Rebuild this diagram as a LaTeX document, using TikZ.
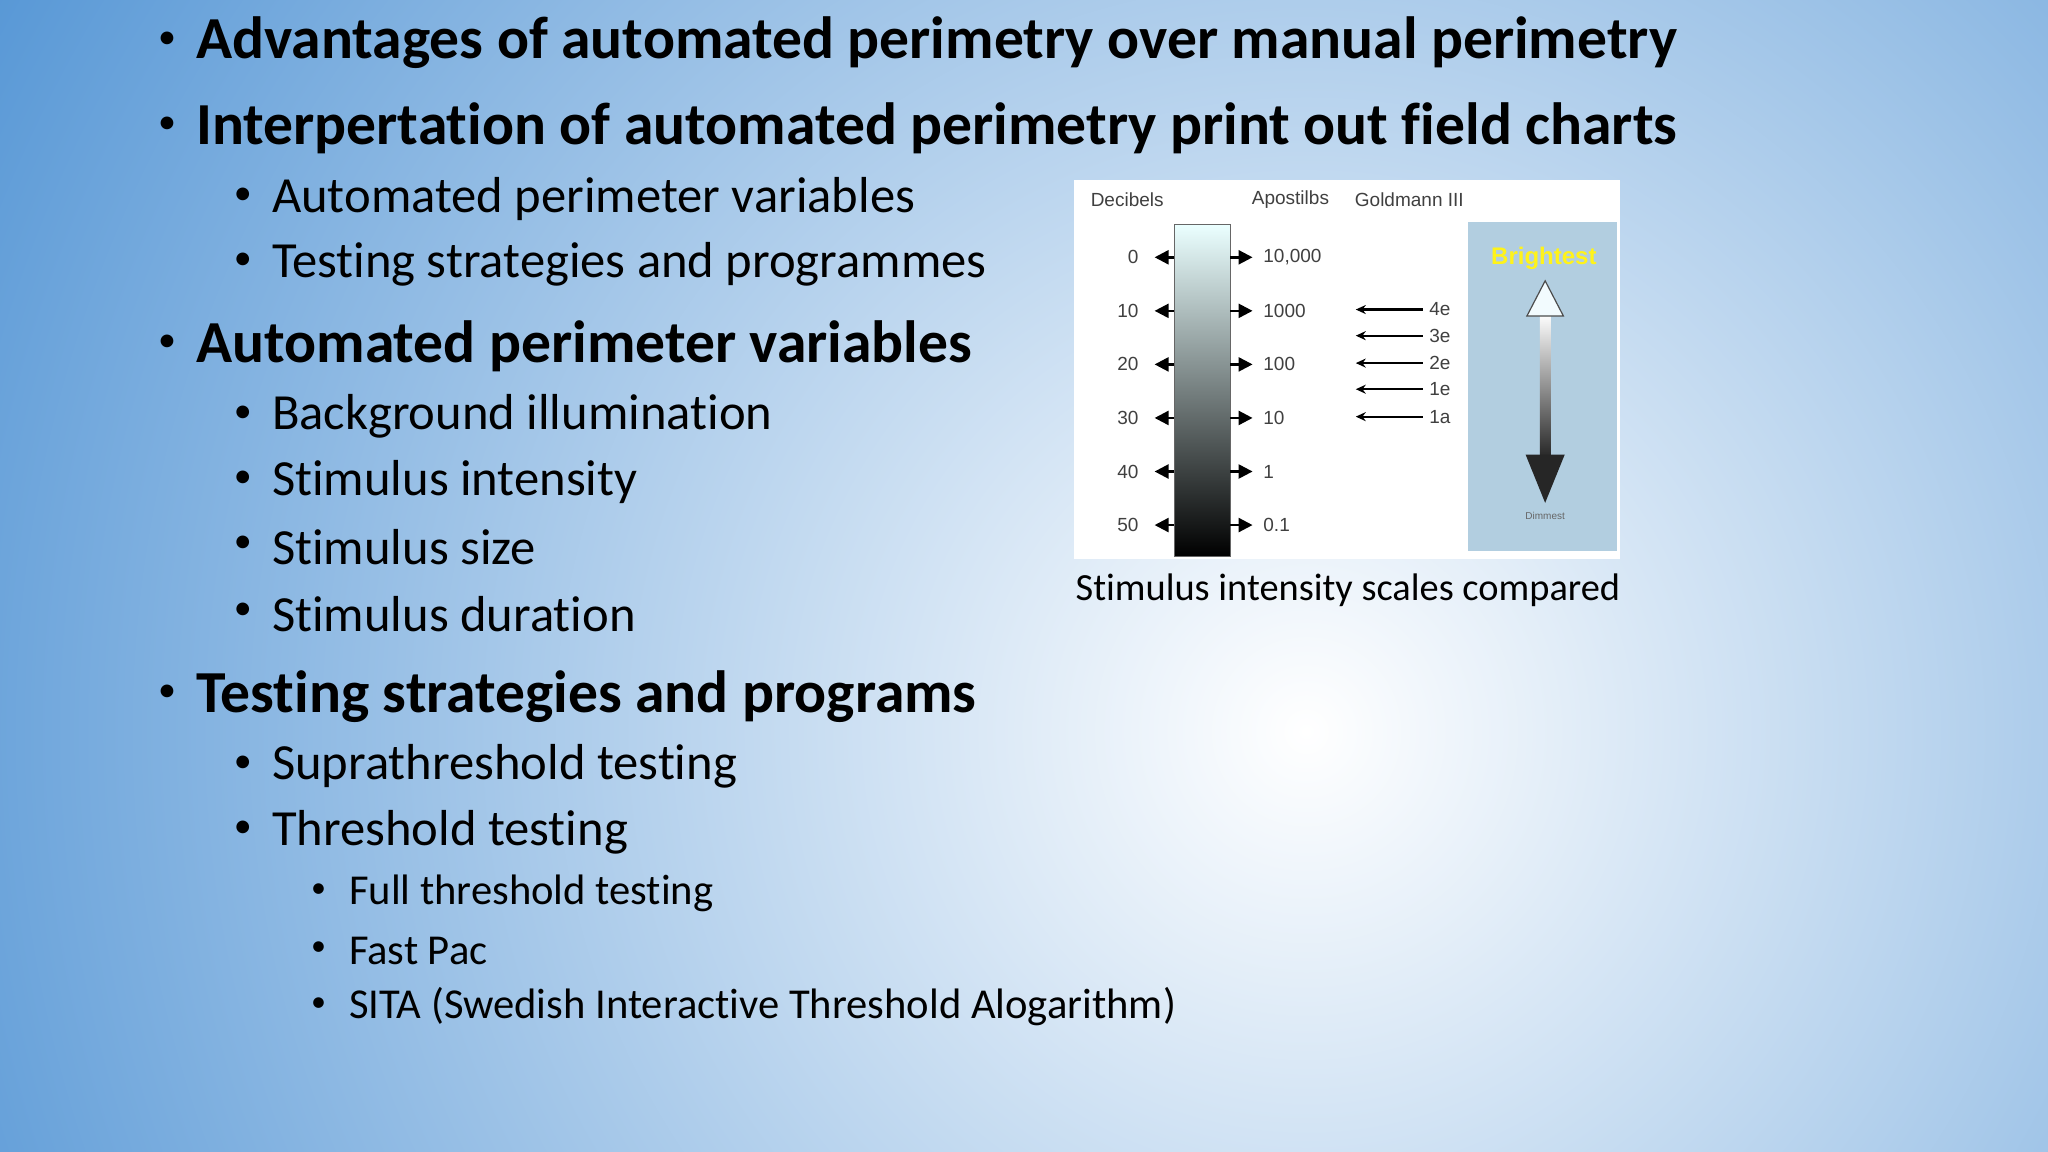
\documentclass[tikz,border=0pt]{standalone}
\usepackage{fontspec}
\setmainfont{Carlito}[Ligatures=NoCommon]
\newfontfamily\chartfont{Liberation Sans}
\usetikzlibrary{arrows.meta}
\definecolor{bgblue}{RGB}{88,152,214}
\definecolor{panelblue}{RGB}{178,206,224}
\tikzset{
  lone/.style={anchor=west,font=\fontsize{29.8}{32}\selectfont\bfseries,inner sep=0pt},
  ltwo/.style={anchor=west,font=\fontsize{25.3}{28}\selectfont,inner sep=0pt},
  lthree/.style={anchor=west,font=\fontsize{21.3}{24}\selectfont,inner sep=0pt},
  bul/.style={inner sep=0pt,font=\fontsize{18}{18}\selectfont},
  ctext/.style={font=\chartfont\fontsize{9.5}{10}\selectfont,text=black!75,inner sep=0pt},
  tick/.style={line width=1.2pt,-{Triangle[length=7pt,width=7pt]}},
  garrow/.style={line width=1.1pt,{Stealth[length=5pt,width=4.5pt]}-},
}
\begin{document}
\begin{tikzpicture}[x=0.653pt,y=-0.653pt]
\useasboundingbox (0,0) rectangle (1568,882);
\fill[bgblue] (0,0) rectangle (1568,882);
\begin{scope}
\clip (0,0) rectangle (1568,882);
\shade[inner color=white,outer color=bgblue] (1000,560) circle (1150);
\end{scope}
% bullets
\foreach \y/\t [count=\i] in {33/Advantages of automated perimetry over manual perimetry,
  98/Interpertation of automated perimetry print out field charts,
  265/Automated perimeter variables,533/Testing strategies and programs}{
  \node[bul] (b\i) at (128,\y-2) {•};
  \node[lone] (t\i) at (150,\y) {\t};}
\foreach \y/\t [count=\i] in {152/Automated perimeter variables,202/Testing strategies and programmes,
  319/Background illumination,369/Stimulus intensity,419/Stimulus size,470/Stimulus duration,
  587/Suprathreshold testing,637/Threshold testing}{
  \node[bul] (c\i) at (186,\y-2) {•};
  \node[ltwo] (s\i) at (208,\y) {\t};}
\foreach \y/\t [count=\i] in {684/Full threshold testing,728/Fast Pac,
  771/SITA (Swedish Interactive Threshold Alogarithm)}{
  \node[bul,font=\fontsize{15}{15}\selectfont] (d\i) at (244,\y-2) {•};
  \node[lthree] (u\i) at (267,\y) {\t};}
% chart
\fill[white] (822,138) rectangle (1240,428);
\node[ctext] (hdb) at (863,153) {Decibels};
\node[ctext] (hap) at (988,153) {Apostilbs};
\node[ctext] (hgo) at (1079,153) {Goldmann III};
\shade[top color=cyan!8!white,bottom color=black,draw=black!60,line width=0.4pt] (899,172) rectangle (942,426);
\foreach \y/\d/\a [count=\i] in {197/0/{10,000},238/10/1000,279/20/100,320/30/10,361/40/1,402/50/0.1}{
  \node[ctext,anchor=east] (db\i) at (872,\y) {\d};
  \coordinate (l\i) at (899,\y); \coordinate (lt\i) at (884,\y);
  \coordinate (r\i) at (942,\y); \coordinate (rt\i) at (959,\y);
  \draw[tick] (l\i) -- (lt\i);
  \draw[tick] (r\i) -- (rt\i);
  \node[ctext,anchor=west] (ap\i) at (967,\y) {\a};}
\foreach \y/\g [count=\i] in {237/4e,257/3e,278/2e,298/1e,319/1a}{
  \node[ctext,anchor=west] (g\i) at (1094,\y) {\g};
  \coordinate (ge\i) at (1038,\y);
  \draw[garrow] (ge\i) -- ([xshift=-3pt]g\i.west);}
\fill[panelblue] (1124,170) rectangle (1238,422);
\node[font=\chartfont\bfseries\fontsize{12}{12}\selectfont,text=yellow!90!white,inner sep=0pt] (bri) at (1182,198) {Brightest};
\node[font=\chartfont\fontsize{5}{5}\selectfont,text=black!60,inner sep=0pt] (dim) at (1183,395) {Dimmest};
\shade[top color=white,bottom color=black!85] (1179,240) rectangle (1187,350);
\filldraw[fill=cyan!5!white,draw=black!70,line width=0.6pt] (1183,215) -- (1197,242) -- (1169,242) -- cycle;
\fill[black!85] (1183,385) -- (1198,348) -- (1168,348) -- cycle;
\node[font=\fontsize{19.2}{22}\selectfont,inner sep=0pt] (cap) at (1032,452) {Stimulus intensity scales compared};
\end{tikzpicture}
\end{document}
